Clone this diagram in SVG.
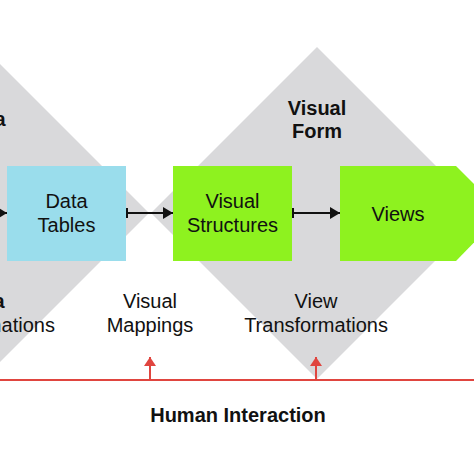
<svg xmlns="http://www.w3.org/2000/svg" width="474" height="474" viewBox="0 0 474 474">
<style>
.dia{fill:#d9d9db}
.t{font-family:"Liberation Sans",Arial,sans-serif;font-size:20px;fill:#111;text-anchor:middle}
.b{font-weight:bold}
.conn{stroke:#111;stroke-width:2;fill:none}
.red{stroke:#e0453f;stroke-width:2;fill:none}
</style>
<defs>
<marker id="ah" markerWidth="12" markerHeight="14" refX="10" refY="7" orient="auto" markerUnits="userSpaceOnUse">
<path d="M0,1 L10,7 L0,13 Z" fill="#111"/>
</marker>
<marker id="rh" markerWidth="12" markerHeight="14" refX="10" refY="7" orient="auto" markerUnits="userSpaceOnUse">
<path d="M1,1 L10,7 L1,13 Z" fill="#e0453f"/>
</marker>
</defs>
<rect width="474" height="474" fill="#fff"/>
<g id="diamond-data">
<polygon class="dia" points="-17,47 149,213 -17,379 -183,213"/>
<text class="t b" x="-16" y="126">Data</text>
</g>
<g id="diamond-visual-form">
<polygon class="dia" points="317,47 483,213 317,379 151,213"/>
<text class="t b" x="317" y="115">Visual</text>
<text class="t b" x="317" y="138">Form</text>
</g>
<g id="data-tables">
<rect x="7" y="166" width="119" height="95" fill="#9addec"/>
<text class="t" x="66.5" y="208">Data</text>
<text class="t" x="66.5" y="232">Tables</text>
</g>
<g id="visual-structures">
<rect x="173" y="166" width="119" height="95" fill="#8ef21f"/>
<text class="t" x="232.5" y="208">Visual</text>
<text class="t" x="232.5" y="232">Structures</text>
</g>
<g id="views">
<polygon points="340,166 456,166 503,213 456,261 340,261" fill="#8ef21f"/>
<text class="t" x="398" y="221">Views</text>
</g>
<g id="labels">
<text class="t b" x="-17" y="308">Data</text>
<text class="t" x="-17" y="332">Transformations</text>
<text class="t" x="150" y="308">Visual</text>
<text class="t" x="150" y="332">Mappings</text>
<text class="t" x="316" y="308">View</text>
<text class="t" x="316" y="332">Transformations</text>
<text class="t b" x="238" y="422">Human Interaction</text>
</g>
<g id="connectors">
<line class="conn" x1="-10" y1="213" x2="7" y2="213" marker-end="url(#ah)"/>
<line class="conn" x1="127" y1="213" x2="173" y2="213" marker-end="url(#ah)"/>
<line class="conn" x1="127" y1="208" x2="127" y2="218"/>
<line class="conn" x1="293" y1="213" x2="340" y2="213" marker-end="url(#ah)"/>
<line class="conn" x1="293" y1="208" x2="293" y2="218"/>
<line class="red" x1="0" y1="380" x2="474" y2="380"/>
<line class="red" x1="150" y1="380" x2="150" y2="357" marker-end="url(#rh)"/>
<line class="red" x1="316" y1="380" x2="316" y2="357" marker-end="url(#rh)"/>
</g>
</svg>
